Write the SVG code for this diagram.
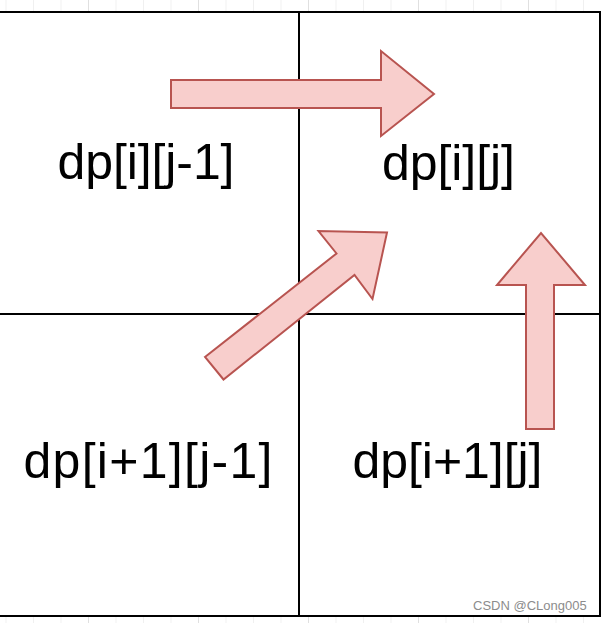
<svg xmlns="http://www.w3.org/2000/svg" width="602" height="623" viewBox="0 0 602 623">
  <defs>
    <pattern id="minor" x="5.5" y="0" width="27.5" height="27.5" patternUnits="userSpaceOnUse">
      <line x1="0.5" y1="0" x2="0.5" y2="27.5" stroke="#f0f0f0" stroke-width="1"/>
    </pattern>
    <pattern id="major" x="88" y="0" width="110" height="110" patternUnits="userSpaceOnUse">
      <line x1="0.5" y1="0" x2="0.5" y2="110" stroke="#e0e0e0" stroke-width="1"/>
    </pattern>
  </defs>
  <style>
    .cell { fill: #ffffff; stroke: #000000; stroke-width: 2; }
    .arrow { fill: #f8cecc; stroke: #b85450; stroke-width: 2; stroke-linejoin: miter; }
    .label { font-family: "Liberation Sans", Arial, Helvetica, sans-serif; font-size: 50px; fill: #000000; text-anchor: middle; }
    .wm { font-family: "Liberation Sans", Arial, sans-serif; font-size: 13px; fill: #8c8c8c; }
  </style>
  <rect x="0" y="0" width="602" height="623" fill="#ffffff"/>
  <rect x="0" y="0" width="602" height="623" fill="url(#minor)"/>
  <rect x="0" y="0" width="602" height="623" fill="url(#major)"/>

  <g id="cell-i-j-1">
    <rect class="cell" x="-2" y="12" width="301" height="302"/>
    <text class="label" x="146" y="179" textLength="177" lengthAdjust="spacing">dp[i][j-1]</text>
  </g>
  <g id="cell-i-j">
    <rect class="cell" x="299" y="12" width="301" height="302"/>
    <text class="label" x="448.5" y="180" textLength="133" lengthAdjust="spacing">dp[i][j]</text>
  </g>
  <g id="cell-i1-j-1">
    <rect class="cell" x="-2" y="314" width="301" height="302"/>
    <text class="label" x="148" y="478" textLength="249" lengthAdjust="spacing">dp[i+1][j-1]</text>
  </g>
  <g id="cell-i1-j">
    <rect class="cell" x="299" y="314" width="301" height="302"/>
    <text class="label" x="447.5" y="478" textLength="190" lengthAdjust="spacing">dp[i+1][j]</text>
  </g>

  <g id="connectors">
    <polygon class="arrow" points="171,80 381,80 381,51 434,94 381,136 381,108 171,108"/>
    <polygon class="arrow" points="205,357 336.5,253.5 318.5,231 387,232.5 372.5,299 354.5,275 223.5,379.5"/>
    <polygon class="arrow" points="526,429 526,285 497,285 541,233 585,285 554,285 554,429"/>
  </g>

  <text class="wm" x="473" y="610">CSDN @CLong005</text>
</svg>
